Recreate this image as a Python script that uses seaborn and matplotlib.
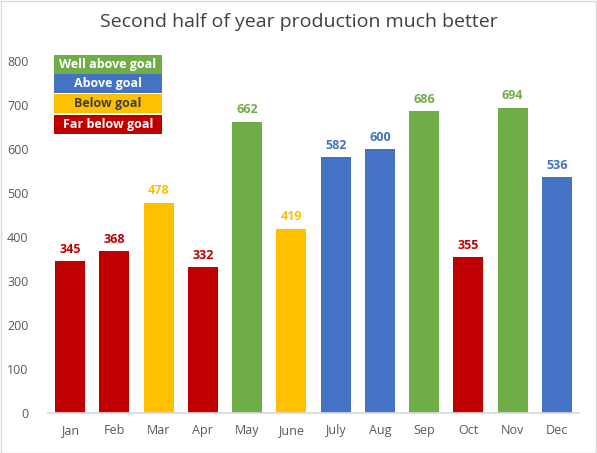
import matplotlib
matplotlib.use("Agg")
import matplotlib.pyplot as plt
import seaborn as sns
import pandas as pd
from matplotlib.patches import Rectangle

months = ["Jan", "Feb", "Mar", "Apr", "May", "June", "July", "Aug", "Sep", "Oct", "Nov", "Dec"]
values = [345, 368, 478, 332, 662, 419, 582, 600, 686, 355, 694, 536]
status = ["Far below goal", "Far below goal", "Below goal", "Far below goal", "Well above goal",
          "Below goal", "Above goal", "Above goal", "Well above goal", "Far below goal",
          "Well above goal", "Above goal"]
legend_order = ["Well above goal", "Above goal", "Below goal", "Far below goal"]
colors = {"Well above goal": "#70AD47", "Above goal": "#4472C4",
          "Below goal": "#FFC000", "Far below goal": "#C00000"}
legend_text_colors = {"Well above goal": "white", "Above goal": "white",
                      "Below goal": "#404040", "Far below goal": "white"}
yticks = [0, 100, 200, 300, 400, 500, 600, 700, 800]

sns.set_theme(style="white")
plt.rcParams['font.family'] = ['Open Sans', 'DejaVu Sans']

df = pd.DataFrame({"month": months, "value": values, "status": status})

fig = plt.figure(figsize=(5.97, 4.53), dpi=100)
ax = fig.add_axes([48/597, 1-413/453, (579-48)/597, (413-61)/453])
sns.barplot(data=df, x="month", y="value", hue="status", palette=colors, dodge=False,
            width=0.68, ax=ax, legend=False, order=months, saturation=1, linewidth=0)

for i, (v, s) in enumerate(zip(values, status)):
    ax.text(i, v + 12, str(v), ha="center", va="bottom", fontsize=9,
            fontweight="bold", color=colors[s])

ax.set_ylim(0, 800)
ax.set_yticks(yticks)
ax.set_yticklabels([str(t) for t in yticks])
ax.set_xlim(-0.5, len(months) - 0.5)
ax.set_xlabel("")
ax.set_ylabel("")
ax.tick_params(axis="both", colors="#595959", labelsize=9, length=0)
ax.tick_params(axis="x", pad=8)
ax.tick_params(axis="y", pad=14)
for sp in ["top", "right", "left"]:
    ax.spines[sp].set_visible(False)
ax.spines["bottom"].set_color("#D9D9D9")
ax.grid(False)

fig.text(0.5, 1 - 22/453, "Second half of year production much better", ha="center",
         va="center", fontsize=14, color="#404040")

# legend boxes
box_tops = [55, 74, 94, 115]
box_h = 18.5
for name, top in zip(legend_order, box_tops):
    x0, x1 = 54/597, 162/597
    y0 = 1 - (top + box_h)/453
    fig.patches.append(Rectangle((x0, y0), x1 - x0, box_h/453, transform=fig.transFigure,
                                 facecolor=colors[name], edgecolor="none"))
    fig.text((x0 + x1)/2, y0 + box_h/453/2, name, ha="center", va="center",
             fontsize=9, fontweight="bold", color=legend_text_colors[name])

fig.patches.append(Rectangle((0.5/597, 0.5/453), 1 - 1.5/597, 1 - 1.5/453, transform=fig.transFigure,
                             facecolor="none", edgecolor="#D9D9D9", linewidth=1))

fig.savefig("out.png", dpi=100)
